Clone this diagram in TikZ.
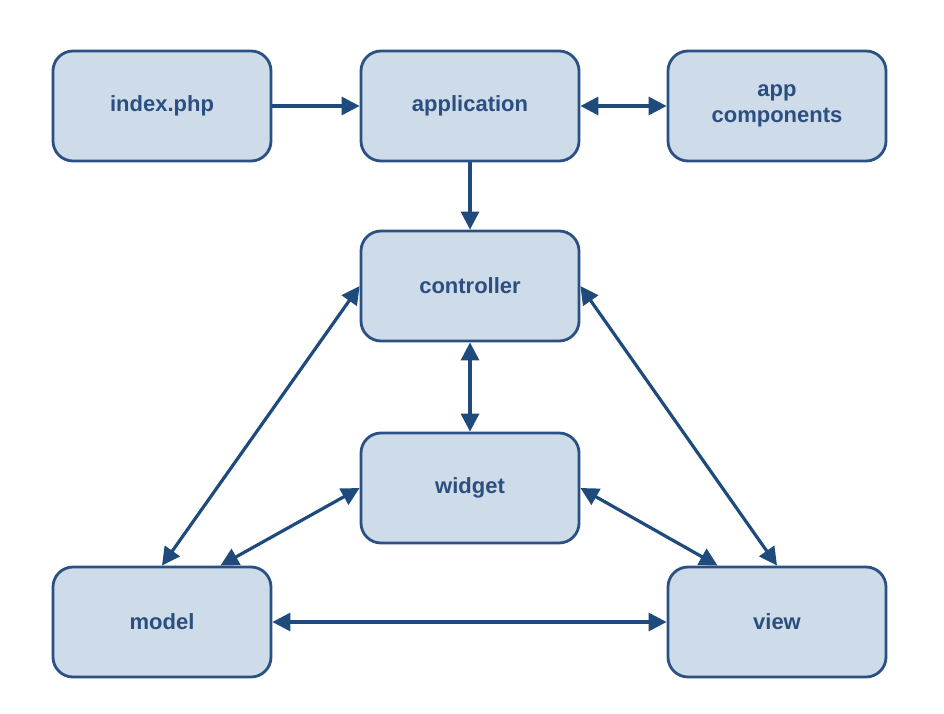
\documentclass[tikz,border=0pt]{standalone}
\usepackage{fontspec}
\setmainfont{Liberation Sans}
\usetikzlibrary{arrows.meta}
\definecolor{boxfill}{HTML}{CEDBE9}
\definecolor{boxline}{HTML}{2B5084}
\definecolor{txt}{HTML}{2A4F80}
\definecolor{arr}{HTML}{1F4A7C}
\begin{document}
\begin{tikzpicture}[x=1pt,y=-1pt,
  box/.style={draw=boxline,line width=2.8pt,fill=boxfill,rounded corners=20pt,
    minimum width=218pt,minimum height=110pt,inner sep=0pt,
    font=\bfseries\fontsize{22}{26}\selectfont,text=txt,align=center},
  tip/.style={Triangle[length=18pt,width=18pt]},
  con/.style={draw=arr,line width=3.2pt,-{Triangle[length=18pt,width=18pt]}},
  bi/.style={con,{Triangle[length=18pt,width=18pt]}-{Triangle[length=18pt,width=18pt]}}]
\fill[white] (0,0) rectangle (944,714);
\node[box] (idx) at (162,106) {index.php};
\node[box] (app) at (470,106) {application};
\node[box] (comp) at (777,106) {app\\components};
\node[box] (ctl) at (470,286) {controller};
\node[box] (wid) at (470,488) {widget};
\node[box] (mod) at (162,622) {model};
\node[box] (view) at (777,622) {view};
\draw[con] (idx) -- (app);
\draw[bi] (app) -- (comp);
\draw[con] (app) -- (ctl);
\draw[bi] (ctl) -- (wid);
\draw[bi] (ctl.west) -- (mod.north);
\draw[bi] (ctl.east) -- (view.north);
\draw[bi] (wid.west) -- ([xshift=-52pt]mod.north east);
\draw[bi] (wid.east) -- ([xshift=51pt]view.north west);
\draw[bi] (mod) -- (view);
\end{tikzpicture}
\end{document}
